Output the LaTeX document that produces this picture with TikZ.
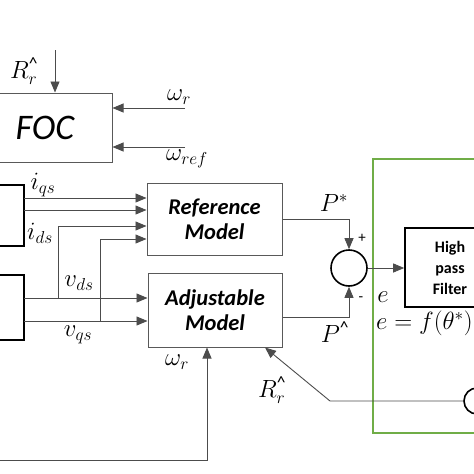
\documentclass[tikz,border=0pt]{standalone}
\usepackage{fontspec}
\setmainfont{Carlito}
\usepackage{tikz}
\usetikzlibrary{arrows.meta}
\definecolor{greenline}{RGB}{112,173,71}
\newfontfamily\blockfont{Carlito}
\newcommand{\caret}{\textasciicircum}

\begin{document}
\begin{tikzpicture}[x=1pt,y=-1pt,
  blk/.style={draw=black!65,line width=1pt,align=center,inner sep=0pt,
    font=\blockfont\fontsize{22.5}{25}\selectfont\bfseries\itshape},
  src/.style={draw=black,line width=2pt,inner sep=0pt},
  wire/.style={draw=black!70,line width=0.9pt},
  arr/.style={wire,-{Triangle[length=11pt,width=9pt]}},
  lbl/.style={font=\fontsize{25}{27}\selectfont,inner sep=0pt}]
\useasboundingbox (0,0) rectangle (474,474);
\clip (0,0) rectangle (474,474);
\node[blk,minimum width=134,minimum height=69,font=\blockfont\fontsize{36}{40}\selectfont\itshape] (foc) at (45,127.5) {FOC};
\node[blk,minimum width=135,minimum height=72] (ref) at (214.5,219) {Reference\\Model};
\node[blk,minimum width=134,minimum height=74] (adj) at (215,310) {Adjustable\\Model};
\node[src,minimum width=64,minimum height=61] (src1) at (-8,215.5) {};
\node[src,minimum width=64,minimum height=65] (src2) at (-8,307.5) {};
\node[draw=black,line width=1.6pt,circle,minimum size=36,inner sep=0pt] (sum) at (349,268) {};
\node[draw=black,line width=1.6pt,minimum width=90,minimum height=79,align=center,inner sep=0pt,
  font=\blockfont\fontsize{16}{21}\selectfont\bfseries] (hpf) at (450,267.5) {High\\pass\\Filter};
\draw[greenline,line width=1.2pt] (373,159) rectangle (500,433);
\node[draw=black,line width=1.6pt,circle,minimum size=26,inner sep=0pt] (adapt) at (477,401) {};
% FOC inputs
\coordinate (rtop) at (55,50);
\coordinate (wr) at (185,108);
\coordinate (wref) at (185,147);
\draw[arr] (rtop) -- (rtop |- foc.north);
\draw[arr] (wr) -- (wr -| foc.east);
\draw[arr] (wref) -- (wref -| foc.east);
\node[lbl] (lrtop) at (24,71) {$R_r^{\caret}$};
\node[lbl] (lwr) at (179,97) {$\omega_r$};
\node[lbl] (lwref) at (187,159) {$\omega_{ref}$};
% measured signals
\coordinate (iq) at (24,198);
\coordinate (id) at (24,210);
\coordinate (vd) at (24,298);
\coordinate (vq) at (24,321);
\coordinate (vdb) at (58,298);
\coordinate (vqb) at (100,321);
\draw[arr] (iq) -- (iq -| ref.west);
\draw[arr] (id) -- (id -| ref.west);
\draw[arr] (vd) -- (vd -| adj.west);
\draw[arr] (vq) -- (vq -| adj.west);
\draw[arr] (vdb) -- (58,226) -- (ref.west |- 0,226);
\draw[arr] (vqb) -- (100,239) -- (ref.west |- 0,239);
\node[lbl] (liq) at (43,185) {$i_{qs}$};
\node[lbl] (lid) at (40,233) {$i_{ds}$};
\node[lbl] (lvd) at (79,283) {$v_{ds}$};
\node[lbl] (lvq) at (78,335) {$v_{qs}$};
% error
\draw[arr] (ref.east |- 0,219) -- (sum.north |- 0,219) -- (sum.north);
\draw[arr] (adj.east |- 0,317) -- (sum.south |- 0,317) -- (sum.south);
\draw[arr] (sum.east) -- (hpf.west |- sum.east);
\node[lbl] (lps) at (334,203) {$P^{*}$};
\node[lbl] (lph) at (335,332) {$P^{\caret}$};
\node[lbl,font=\fontsize{15}{15}\selectfont] (lplus) at (362,238) {+};
\node[lbl,font=\fontsize{15}{15}\selectfont] (lminus) at (361,299) {-};
\node[lbl] (le) at (383,297) {$e$};
\node[lbl,anchor=west] (lef) at (376,323) {$e=f(\theta^{*})$};
% feedback
\coordinate (wfb) at (0,460);
\draw[arr] (wfb) -- (207,460) -- (207,0 |- adj.south);
\node[lbl] (lwfb) at (177,362) {$\omega_r$};
\draw[arr] (adapt.west) -- (330,401) -- (265,0 |- adj.south);
\node[lbl] (lrfb) at (272,390) {$R_r^{\caret}$};
\end{tikzpicture}
\end{document}
